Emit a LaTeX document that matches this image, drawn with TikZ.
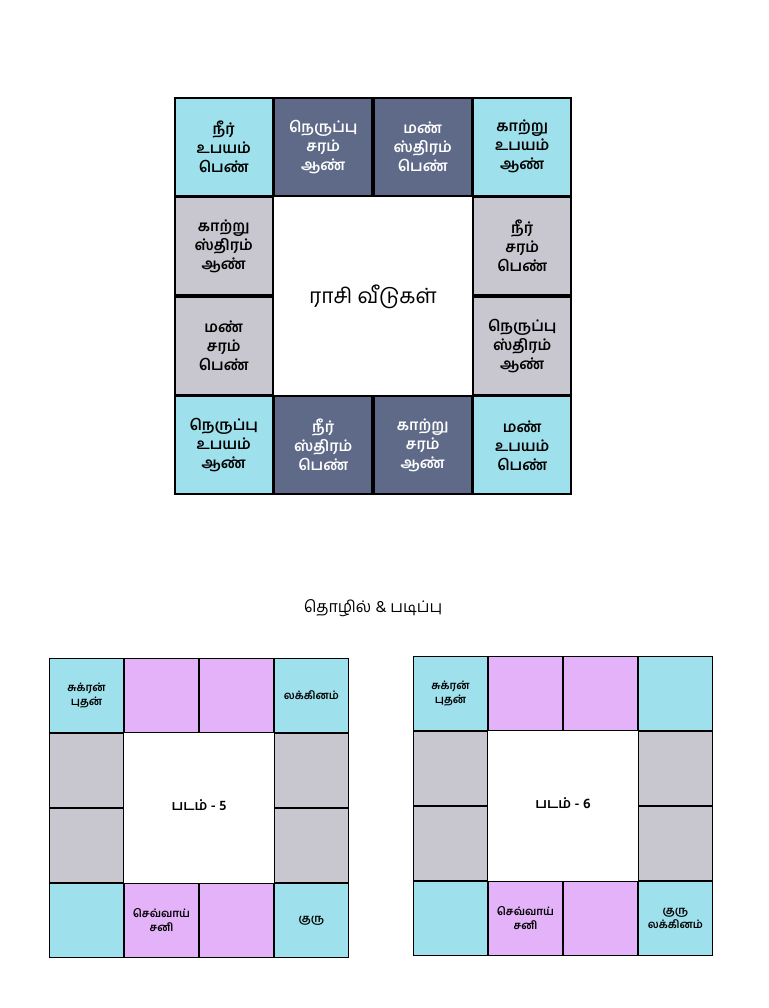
\documentclass[tikz,border=0pt]{standalone}
\usepackage{fontspec}
\newfontfamily\tam[Script=Tamil]{Hind Madurai}
\definecolor{cy}{HTML}{9EE0EB}
\definecolor{dk}{HTML}{5E6A87}
\definecolor{gr}{HTML}{C8C7CF}
\definecolor{pk}{HTML}{E3B2F8}
\tikzset{
 big/.style={draw=black,line width=1.8pt,minimum size=98pt,inner sep=0pt,align=center,font=\tam\bfseries\fontsize{15}{19}\selectfont},
 sml/.style={draw=black,line width=1.5pt,minimum size=74pt,inner sep=0pt,align=center,font=\tam\bfseries\fontsize{11}{14}\selectfont},
 ctr/.style={align=center}
}
\begin{document}
\begin{tikzpicture}[x=1pt,y=-1pt]
\useasboundingbox (0,0) rectangle (768,1008);
% top grid: origin 174,97 cell 99.5
\def\c{99.5}
\foreach \i/\j/\col/\txt/\tc [count=\n] in {
0/0/cy/{நீர்\\உபயம்\\பெண்}/black,
1/0/dk/{நெருப்பு\\சரம்\\ஆண்}/white,
2/0/dk/{மண்\\ஸ்திரம்\\பெண்}/white,
3/0/cy/{காற்று\\உபயம்\\ஆண்}/black,
0/1/gr/{காற்று\\ஸ்திரம்\\ஆண்}/black,
3/1/gr/{நீர்\\சரம்\\பெண்}/black,
0/2/gr/{மண்\\சரம்\\பெண்}/black,
3/2/gr/{நெருப்பு\\ஸ்திரம்\\ஆண்}/black,
0/3/cy/{நெருப்பு\\உபயம்\\ஆண்}/black,
1/3/dk/{நீர்\\ஸ்திரம்\\பெண்}/white,
2/3/dk/{காற்று\\சரம்\\ஆண்}/white,
3/3/cy/{மண்\\உபயம்\\பெண்}/black}
 \node[big,fill=\col,text=\tc] (t\n) at (174+\c*\i+\c/2, 97+\c*\j+\c/2) {\txt};
\node[font=\tam\fontsize{21}{25}\selectfont] (title1) at (373,297) {ராசி வீடுகள்};
\node[font=\tam\fontsize{16}{20}\selectfont] (title2) at (373,608) {தொழில் \& படிப்பு};
% bottom grids
\def\s{75}
\foreach \ox/\oy/\tag/\lab/\ta/\tb in {49/658/a/{படம் - 5}/{லக்கினம்}/{குரு}, 413/656/b/{படம் - 6}/{}/{குரு\\லக்கினம்}}{
 \foreach \i/\j/\col/\txt [count=\n] in {
 0/0/cy/{சுக்ரன்\\புதன்}, 1/0/pk/{}, 2/0/pk/{}, 3/0/cy/{\ta},
 0/1/gr/{}, 3/1/gr/{}, 0/2/gr/{}, 3/2/gr/{},
 0/3/cy/{}, 1/3/pk/{செவ்வாய்\\சனி}, 2/3/pk/{}, 3/3/cy/{\tb}}
  \node[sml,fill=\col] (\tag\n) at (\ox+\s*\i+\s/2, \oy+\s*\j+\s/2) {\txt};
 \node[font=\tam\bfseries\fontsize{14}{17}\selectfont] (\tag c) at (\ox+150,\oy+147) {\lab};
}
\end{tikzpicture}
\end{document}
